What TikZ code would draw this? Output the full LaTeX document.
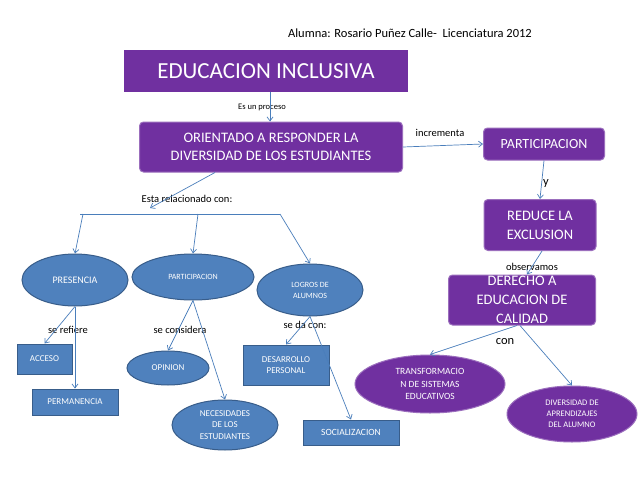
\documentclass[tikz,border=0pt]{standalone}
\usepackage{fontspec}
\setmainfont{Carlito}
\usetikzlibrary{shapes.geometric,arrows.meta}
\definecolor{pur}{HTML}{7030A0}
\definecolor{blu}{HTML}{4F81BD}
\definecolor{bbd}{HTML}{385D8A}
\definecolor{ln}{HTML}{4A7EBB}
\tikzset{
 pbox/.style={fill=pur,draw=pur!70!white,line width=1pt,rounded corners=4pt,text=white,align=center,inner sep=0pt},
 bbox/.style={fill=blu,draw=bbd,line width=1pt,text=white,align=center,inner sep=0pt,font=\fontsize{9}{11.5}\selectfont},
 bell/.style={ellipse,fill=blu,draw=bbd,line width=1pt,text=white,align=center,inner sep=0pt,font=\fontsize{9}{11.5}\selectfont},
 pell/.style={ellipse,fill=pur,draw=pur!70!white,line width=1pt,text=white,align=center,inner sep=0pt,font=\fontsize{9.5}{12.5}\selectfont},
 con/.style={draw=ln,line width=0.7pt,-{Straight Barb[length=4pt,width=6pt]}},
 lab/.style={font=\fontsize{10.5}{12}\selectfont,inner sep=0pt}
}
\begin{document}
\begin{tikzpicture}[x=1pt,y=-1pt]
\useasboundingbox[fill=white] (0,0) rectangle (638,479);
\node[lab,font=\fontsize{12.5}{14}\selectfont] (tt) at (410,33) {Alumna: Rosario Puñez Calle-\ \ Licenciatura 2012};
\node[fill=pur,minimum width=284pt,minimum height=42pt,text=white,font=\fontsize{23}{26}\selectfont,inner sep=0pt] (ei) at (266,71) {EDUCACION INCLUSIVA};
\node[lab,font=\fontsize{8.5}{10}\selectfont] (ep) at (262,107) {Es un proceso};
\node[pbox,minimum width=263pt,minimum height=50pt,font=\fontsize{14.5}{18}\selectfont] (or) at (271,147) {ORIENTADO A RESPONDER LA\\DIVERSIDAD DE LOS ESTUDIANTES};
\node[pbox,minimum width=121pt,minimum height=32pt,font=\fontsize{14}{17}\selectfont] (pa) at (544,144) {PARTICIPACION};
\node[pbox,minimum width=112pt,minimum height=51pt,font=\fontsize{14.5}{19}\selectfont] (re) at (540,225) {REDUCE LA\\EXCLUSION};
\node[pbox,minimum width=147pt,minimum height=50pt,font=\fontsize{14.5}{19}\selectfont] (de) at (522,300) {DERECHO A\\EDUCACION DE\\CALIDAD};
\node[pell,minimum width=150pt,minimum height=58pt] (tr) at (430,384) {TRANSFORMACIO\\N DE SISTEMAS\\EDUCATIVOS};
\node[pell,minimum width=130pt,minimum height=56pt,font=\fontsize{8.5}{11}\selectfont] (dv) at (572,414) {DIVERSIDAD DE\\APRENDIZAJES\\DEL ALUMNO};
\node[lab] (li) at (440,133) {incrementa};
\node[lab,font=\fontsize{12.5}{14}\selectfont] (ly) at (546,184) {y};
\node[lab] (lo) at (532,267) {observamos};
\node[lab,font=\fontsize{12.5}{14}\selectfont] (lc) at (505,342) {con};
\node[lab] (lr) at (187,199) {Esta relacionado con:};
\node[bell,minimum width=106pt,minimum height=52pt,font=\fontsize{10}{12}\selectfont] (pr) at (75,280) {PRESENCIA};
\node[bell,minimum width=122pt,minimum height=46pt,font=\fontsize{8}{10}\selectfont] (pc) at (193,277) {PARTICIPACION};
\node[bell,minimum width=106pt,minimum height=52pt,font=\fontsize{8}{11}\selectfont] (lg) at (310,290) {LOGROS DE\\ALUMNOS};
\node[lab] (ls) at (68,330) {se refiere};
\node[lab] (lk) at (180,330) {se considera};
\node[lab] (ld) at (305,325) {se da con:};
\node[bbox,minimum width=55pt,minimum height=30pt] (ac) at (44.5,359) {ACCESO};
\node[bbox,minimum width=86pt,minimum height=26pt] (pe) at (75,402) {PERMANENCIA};
\node[bell,minimum width=82pt,minimum height=34pt] (op) at (168,368) {OPINION};
\node[bell,minimum width=106pt,minimum height=50pt] (ne) at (225,425) {NECESIDADES\\DE LOS\\ESTUDIANTES};
\node[bbox,minimum width=86pt,minimum height=40pt] (ds) at (286,365) {DESARROLLO\\PERSONAL};
\node[bbox,minimum width=96pt,minimum height=25pt,font=\fontsize{9.5}{11.5}\selectfont] (so) at (351,432.5) {SOCIALIZACION};
\coordinate (h1) at (80,214); \coordinate (h2) at (280,214); \coordinate (hm) at (198,214);
\draw[con] (ei.south -| 270,0) -- (or.north -| 270,0);
\draw[con] (or.east) -- (pa.west);
\draw[con] (pa.south) -- (re.north);
\draw[con] ([xshift=2pt]re.south) -- ([xshift=5pt]de.north);
\draw[con] ([xshift=-5pt]de.south) -- (tr.north);
\draw[con] ([xshift=-2pt]de.south) -- (dv.north);
\draw[con] (or.south -| 215,0) -- (150,208);
\draw[draw=ln,line width=0.7pt] (h1) -- (h2);
\draw[con] (83,214) -- (pr.north);
\draw[con] (hm) -- (pc.north);
\draw[con] (h2) -- (lg.north);
\draw[con] (pr.south) -- (ac.north);
\draw[con] (pr.south) -- (pe.north);
\draw[con] (pc.south) -- (op.north);
\draw[con] (pc.south) -- (ne.north);
\draw[con] (lg.south) -- (ds.north);
\draw[con] (lg.south) -- (so.north);
\end{tikzpicture}
\end{document}
